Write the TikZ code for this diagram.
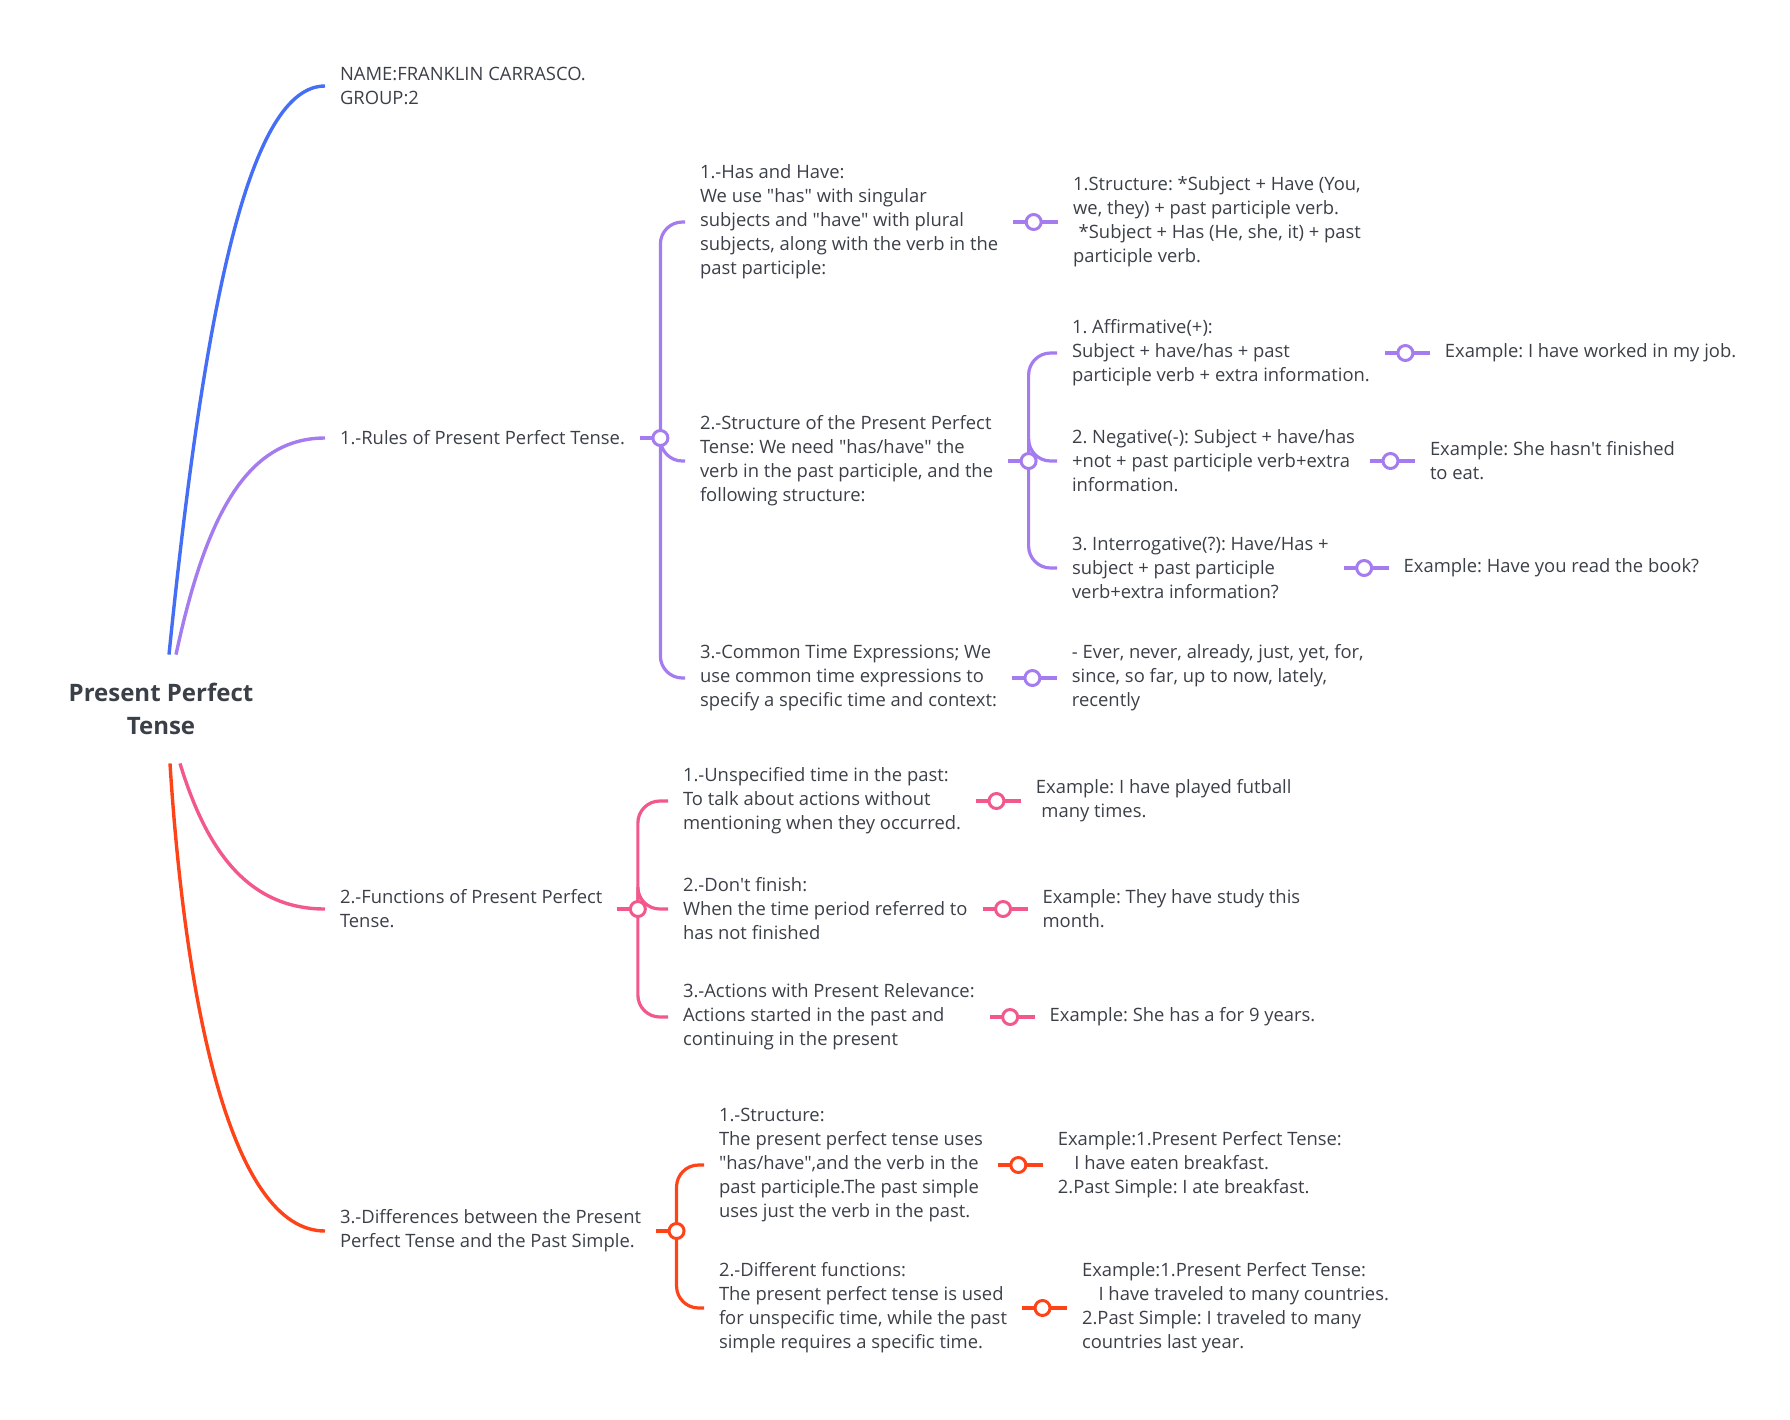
\documentclass[tikz,border=0pt]{standalone}
\usepackage{fontspec}
\setmainfont{Open Sans}[Ligatures=TeXOff]
\usepackage{tikz}
\usetikzlibrary{positioning,backgrounds}
\definecolor{mapblue}{HTML}{436EF5}
\definecolor{mapviolet}{HTML}{A47CF0}
\definecolor{mappink}{HTML}{F2588C}
\definecolor{mapred}{HTML}{FF4319}
\definecolor{ink}{HTML}{3B4048}
\newcommand\mapfont{\fontsize{9.2}{12}\selectfont\frenchspacing}
\tikzset{
    every picture/.style={line cap=round,line join=round},
    rootnode/.style={align=center,inner sep=0pt,minimum height=54pt,text=ink,
      font=\fontsize{12}{16.5}\selectfont\bfseries},
    topic/.style={align=left,anchor=west,inner sep=0pt,outer xsep=7.5pt,
      outer ysep=0pt,text=ink,font=\mapfont},
    knob/.style={circle,draw=#1,fill=white,line width=1.5pt,minimum size=7.5pt,
      inner sep=0pt,outer sep=0pt},
    branch/.style={draw=#1,line width=1.7pt},
    fork/.style={draw=#1,line width=1.6pt,rounded corners=11pt}
}
\begin{document}
\begin{tikzpicture}[x=0.5pt,y=-0.5pt]
    \useasboundingbox (0,0) rectangle (1790,1420);
    \node[rootnode] (root) at (161,709) {Present Perfect\\Tense};
    % main topics
    \node[topic] (who) at (325,86) {NAME:FRANKLIN CARRASCO.\\GROUP:2};
    \node[topic] (rules) at (325,438) {1.-Rules of Present Perfect Tense.};
    \node[topic] (funcs) at (325,909) {2.-Functions of Present Perfect\\Tense.};
    \node[topic] (diffs) at (325,1231) {3.-Differences between the Present\\Perfect Tense and the Past Simple.};
    \node[knob=mapviolet,right=6.5pt of rules] (rulesk) {};
    \node[knob=mappink,right=6.5pt of funcs] (funcsk) {};
    \node[knob=mapred,right=6.5pt of diffs] (diffsk) {};
    % rules
    \node[topic] (has) at (685,222) {1.-Has and Have:\\We use "has" with singular\\subjects and "have" with plural\\subjects, along with the verb in the\\past participle:};
    \node[knob=mapviolet,right=6.5pt of has] (hask) {};
    \node[topic,right=8.5pt of hask] (hasex) {1.Structure: *Subject + Have (You,\\we, they) + past participle verb.\\\hspace*{0.3em}*Subject + Has (He, she, it) + past\\participle verb.};
    \node[topic] (struct) at (685,461) {2.-Structure of the Present Perfect\\Tense: We need "has/have" the\\verb in the past participle, and the\\following structure:};
    \node[knob=mapviolet,right=6.5pt of struct] (structk) {};
    \node[topic] (aff) at (1057,353) {1. Affirmative(+):\\Subject + have/has + past\\participle verb + extra information.};
    \node[knob=mapviolet,right=6.5pt of aff] (affk) {};
    \node[topic,right=8.5pt of affk] (affex) {Example: I have worked in my job.};
    \node[topic] (neg) at (1057,461) {2. Negative(-): Subject + have/has\\+not + past participle verb+extra\\information.};
    \node[knob=mapviolet,right=6.5pt of neg] (negk) {};
    \node[topic,right=8.5pt of negk] (negex) {Example: She hasn't finished\\to eat.};
    \node[topic] (inter) at (1057,568) {3. Interrogative(?): Have/Has +\\subject + past participle\\verb+extra information?};
    \node[knob=mapviolet,right=6.5pt of inter] (interk) {};
    \node[topic,right=8.5pt of interk] (interex) {Example: Have you read the book?};
    \node[topic] (common) at (685,678) {3.-Common Time Expressions; We\\use common time expressions to\\specify a specific time and context:};
    \node[knob=mapviolet,right=6.5pt of common] (commonk) {};
    \node[topic,right=8.5pt of commonk] (commonex) {- Ever, never, already, just, yet, for,\\since, so far, up to now, lately,\\recently};
    % functions
    \node[topic] (unspec) at (668,801) {1.-Unspecified time in the past:\\To talk about actions without\\mentioning when they occurred.};
    \node[knob=mappink,right=6.5pt of unspec] (unspeck) {};
    \node[topic,right=8.5pt of unspeck] (unspecex) {Example: I have played futball\\\hspace*{0.3em}many times.};
    \node[topic] (dont) at (668,909) {2.-Don't finish:\\When the time period referred to\\has not finished};
    \node[knob=mappink,right=6.5pt of dont] (dontk) {};
    \node[topic,right=8.5pt of dontk] (dontex) {Example: They have study this\\month.};
    \node[topic] (actions) at (668,1017) {3.-Actions with Present Relevance:\\Actions started in the past and\\continuing in the present};
    \node[knob=mappink,right=6.5pt of actions] (actionsk) {};
    \node[topic,right=8.5pt of actionsk] (actionsex) {Example: She has a for 9 years.};
    % differences
    \node[topic] (rstruct) at (704,1165) {1.-Structure:\\The present perfect tense uses\\"has/have",and the verb in the\\past participle.The past simple\\uses just the verb in the past.};
    \node[knob=mapred,right=6.5pt of rstruct] (rstructk) {};
    \node[topic,right=8.5pt of rstructk] (rstructex) {Example:1.Present Perfect Tense:\\\hspace*{0.9em}I have eaten breakfast.\\2.Past Simple: I ate breakfast.};
    \node[topic] (rfunc) at (704,1308) {2.-Different functions:\\The present perfect tense is used\\for unspecific time, while the past\\simple requires a specific time.};
    \node[knob=mapred,right=6.5pt of rfunc] (rfunck) {};
    \node[topic,right=8.5pt of rfunck] (rfuncex) {Example:1.Present Perfect Tense:\\\hspace*{0.9em}I have traveled to many countries.\\2.Past Simple: I traveled to many\\countries last year.};
    \begin{scope}[on background layer]
        \draw[branch=mapblue] ([xshift=4pt]root.north) .. controls +(36,-355) and +(-75,0) .. (who.west);
        \draw[branch=mapviolet] ([xshift=7.5pt]root.north) .. controls +(29,-135) and +(-80,0) .. (rules.west);
        \draw[branch=mappink] ([xshift=9.5pt]root.south) .. controls +(25,82) and +(-80,0) .. (funcs.west);
        \draw[branch=mapred] ([xshift=4.5pt]root.south) .. controls +(15,237) and +(-95,0) .. (diffs.west);
        \foreach \x/\y in {rules/rulesk,has/hask,struct/structk,aff/affk,neg/negk,inter/interk,common/commonk,
            hask/hasex.west,affk/affex.west,negk/negex.west,interk/interex.west,commonk/commonex.west}
            \draw[branch=mapviolet] (\x) -- (\y);
        \foreach \x/\y in {funcs/funcsk,unspec/unspeck,dont/dontk,actions/actionsk,
            unspeck/unspecex.west,dontk/dontex.west,actionsk/actionsex.west}
            \draw[branch=mappink] (\x) -- (\y);
        \foreach \x/\y in {diffs/diffsk,rstruct/rstructk,rfunc/rfunck,
            rstructk/rstructex.west,rfunck/rfuncex.west}
            \draw[branch=mapred] (\x) -- (\y);
        \foreach \y in {has,struct,common}
            \draw[fork=mapviolet] (rulesk.center) |- (\y.west);
        \foreach \y in {aff,neg,inter}
            \draw[fork=mapviolet] (structk.center) |- (\y.west);
        \foreach \y in {unspec,dont,actions}
            \draw[fork=mappink] (funcsk.center) |- (\y.west);
        \foreach \y in {rstruct,rfunc}
            \draw[fork=mapred] (diffsk.center) |- (\y.west);
    \end{scope}
\end{tikzpicture}
\end{document}
